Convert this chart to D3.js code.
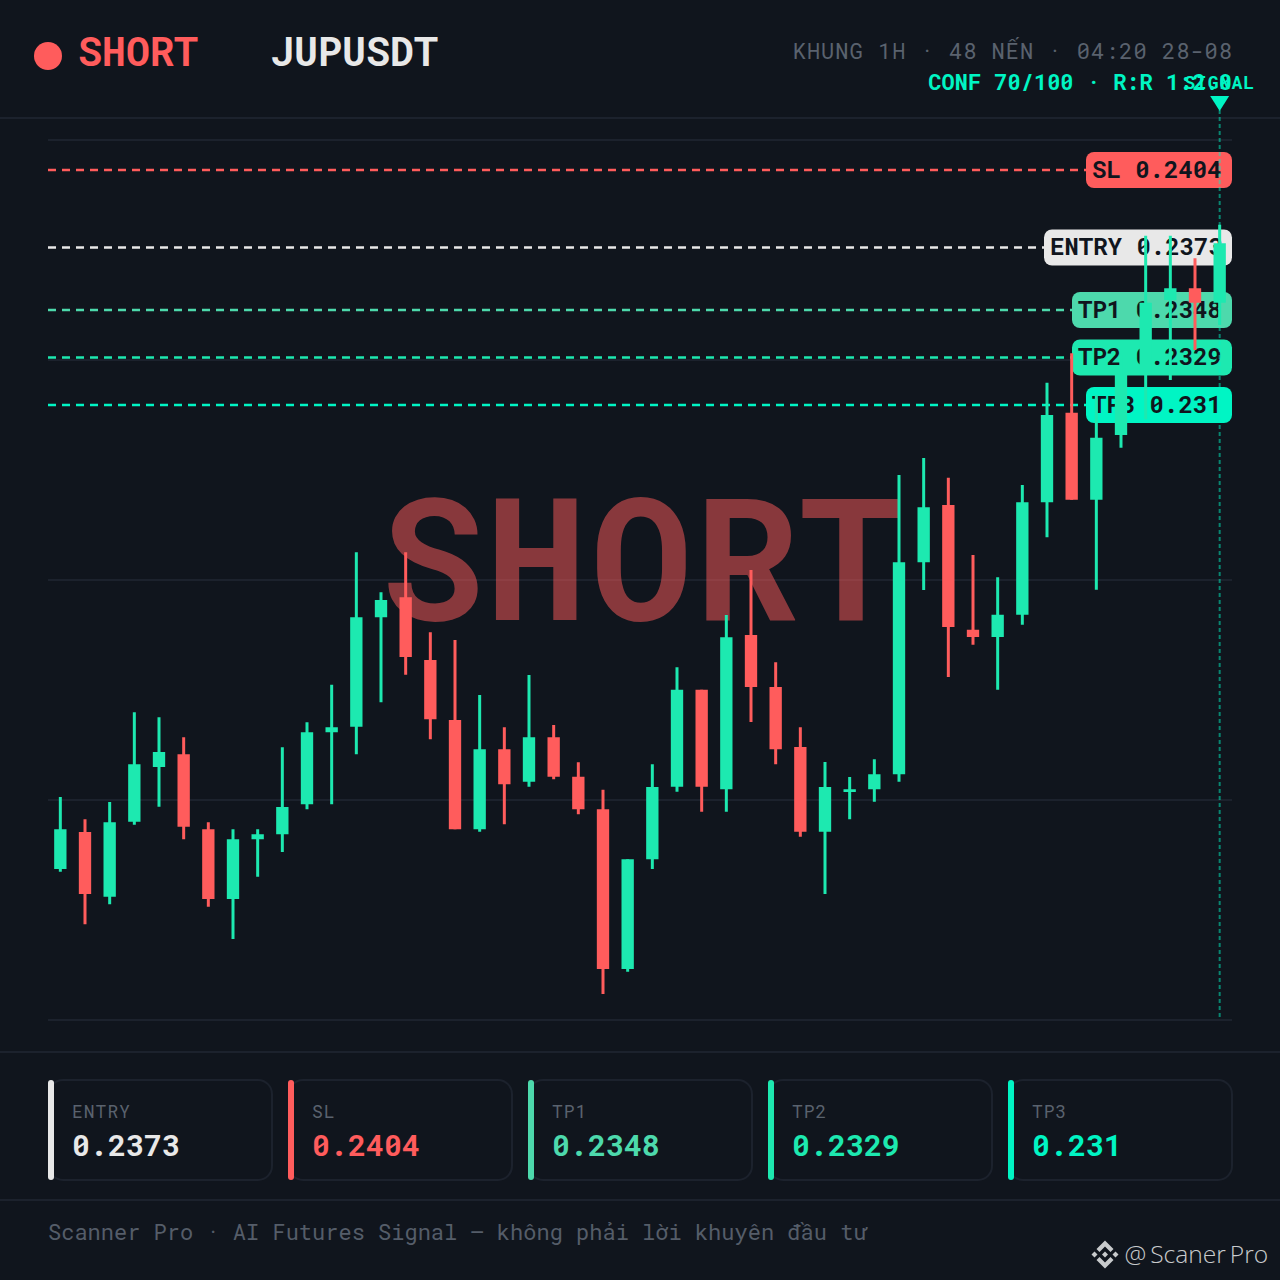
<!DOCTYPE html>
<html>
<head>
<meta charset="utf-8">
<script src="https://cdnjs.cloudflare.com/ajax/libs/d3/7.8.5/d3.min.js"></script>
<style>
  html, body { margin: 0; padding: 0; background: #10151d; }
  svg { display: block; }
  text { font-family: "Roboto Mono", "DejaVu Sans Mono", monospace; }
</style>
</head>
<body>
<div id="chart"></div>
<script>
// candle values, oldest first
var candleOpen = [0.21244,0.21392,0.21133,0.21433,0.21652,0.21703,0.21403,0.21124,0.21363,0.21383,0.21503,0.21791,
  0.21813,0.22251,0.22331,0.22080,0.21840,0.21403,0.21723,0.21593,0.21771,0.21613,0.21483,0.20844,
  0.21283,0.21573,0.21961,0.21563,0.22180,0.21972,0.21732,0.21393,0.21552,0.21563,0.21623,0.22471,
  0.22700,0.22201,0.22172,0.22261,0.22711,0.23069,0.22721,0.22980,0.23220,0.23520,0.23567,0.23509];
var candleHigh = [0.21532,0.21443,0.21512,0.21871,0.21851,0.21771,0.21431,0.21403,0.21403,0.21731,0.21831,0.21981,
  0.22511,0.22351,0.22511,0.22191,0.22160,0.21940,0.21811,0.22020,0.21820,0.21671,0.21561,0.21283,
  0.21663,0.22051,0.21961,0.22260,0.22440,0.22071,0.21811,0.21672,0.21612,0.21683,0.22820,0.22888,
  0.22809,0.22500,0.22411,0.22780,0.23189,0.23307,0.23140,0.23300,0.23777,0.23777,0.23687,0.23821];
var candleLow = [0.21233,0.21023,0.21103,0.21421,0.21493,0.21363,0.21093,0.20964,0.21213,0.21312,0.21483,0.21503,
  0.21703,0.21911,0.22021,0.21763,0.21403,0.21393,0.21423,0.21573,0.21603,0.21463,0.20744,0.20833,
  0.21244,0.21553,0.21473,0.21473,0.21832,0.21663,0.21373,0.21144,0.21443,0.21513,0.21593,0.22360,
  0.22012,0.22141,0.21961,0.22221,0.22571,0.22721,0.22361,0.22929,0.23043,0.23200,0.23320,0.23420];
var candleClose = [0.21403,0.21144,0.21431,0.21663,0.21712,0.21413,0.21124,0.21363,0.21383,0.21492,0.21791,0.21811,
  0.22251,0.22320,0.22092,0.21843,0.21403,0.21723,0.21583,0.21771,0.21613,0.21483,0.20844,0.21283,
  0.21572,0.21961,0.21573,0.22171,0.21972,0.21723,0.21393,0.21572,0.21563,0.21623,0.22471,0.22691,
  0.22212,0.22172,0.22261,0.22711,0.23060,0.22721,0.22969,0.23220,0.23509,0.23567,0.23509,0.23747];

var gridPrices = [0.2416, 0.2328, 0.2240, 0.2152, 0.2064];

var levelNames = ['SL', 'ENTRY', 'TP1', 'TP2', 'TP3'];
var levelPrices = [0.2404, 0.2373, 0.2348, 0.2329, 0.231];
var levelColors = ['#ff5c5c', '#e8e8e8', '#4dd9ac', '#1de9b0', '#00f5c4'];

var cardNames = ['ENTRY', 'SL', 'TP1', 'TP2', 'TP3'];
var cardPrices = [0.2373, 0.2404, 0.2348, 0.2329, 0.231];
var cardColors = ['#e8e8e8', '#ff5c5c', '#4dd9ac', '#1de9b0', '#00f5c4'];

var BG = '#10151d', LINE = '#1c222d', MUTED = '#5a626e', UP = '#1de9b0', DOWN = '#ff5c5c', SIGNAL = '#00f5c4';

var svg = d3.select('#chart').append('svg').attr('width', 1280).attr('height', 1280);

svg.append('rect').attr('width', 1280).attr('height', 1280).attr('fill', BG);

var x = d3.scaleBand().domain(d3.range(candleOpen.length)).range([48, 1232]);
var y = d3.scaleLinear().domain([0.2064, 0.2416]).range([1020, 140]);

// header
svg.append('circle').attr('cx', 48).attr('cy', 56).attr('r', 14).attr('fill', DOWN);
svg.append('text').attr('x', 78).attr('y', 66).attr('font-size', 40).attr('font-weight', 700).attr('fill', DOWN).text('SHORT');
svg.append('text').attr('x', 270).attr('y', 66).attr('font-size', 40).attr('font-weight', 700).attr('fill', '#e8e8e8').text('JUPUSDT');
svg.append('text').attr('x', 1233).attr('y', 59).attr('text-anchor', 'end').attr('font-size', 22)
  .attr('letter-spacing', 1).attr('fill', MUTED).text('KHUNG 1H · 48 NẾN · 04:20 28-08');
svg.append('text').attr('x', 1232).attr('y', 90).attr('text-anchor', 'end').attr('font-size', 22)
  .attr('font-weight', 700).attr('fill', SIGNAL).text('CONF 70/100 · R:R 1:2.0');

var rules = [118, 1052, 1200];
svg.selectAll('.rule').data(rules).enter().append('line').attr('class', 'rule')
  .attr('x1', 0).attr('x2', 1280).attr('y1', function (d) { return d; }).attr('y2', function (d) { return d; })
  .attr('stroke', LINE).attr('stroke-width', 2);

// grid comes from a real axis with the labels switched off
var grid = d3.axisLeft(y).tickValues(gridPrices).tickSize(-1184).tickFormat('').offset(0);
var gridGroup = svg.append('g').attr('transform', 'translate(48,0)').call(grid);
gridGroup.select('.domain').remove();
gridGroup.selectAll('line').attr('stroke', LINE).attr('stroke-width', 2);

// big watermark sits under the candles
svg.append('text').attr('x', 643).attr('y', 620).attr('text-anchor', 'middle').attr('font-size', 170)
  .attr('letter-spacing', 2.75).attr('font-weight', 700).attr('fill', DOWN).attr('opacity', 0.5).text('SHORT');

function badgeLabel(i) { return levelNames[i] + ' ' + levelPrices[i]; }
function badgeWidth(i) { return badgeLabel(i).length * 14 + 20; }

// level lines and their badges
var levels = svg.selectAll('.level').data(levelNames).enter().append('g').attr('class', 'level');
levels.append('line')
  .attr('x1', 48).attr('x2', function (d, i) { return 1232 - badgeWidth(i); })
  .attr('y1', function (d, i) { return y(levelPrices[i]); })
  .attr('y2', function (d, i) { return y(levelPrices[i]); })
  .attr('stroke', function (d, i) { return levelColors[i]; })
  .attr('stroke-width', 2.4).attr('stroke-dasharray', '8,6');
levels.append('rect')
  .attr('x', function (d, i) { return 1232 - badgeWidth(i); })
  .attr('y', function (d, i) { return y(levelPrices[i]) - 18; })
  .attr('width', function (d, i) { return badgeWidth(i); })
  .attr('height', 36).attr('rx', 8)
  .attr('fill', function (d, i) { return levelColors[i]; });
levels.append('text')
  .attr('x', function (d, i) { return 1232 - badgeWidth(i) + 6; })
  .attr('y', function (d, i) { return y(levelPrices[i]) + 7.5; })
  .attr('font-size', 24).attr('font-weight', 700).attr('fill', BG)
  .text(function (d, i) { return badgeLabel(i); });

// signal marker on the last candle
var signalX = x(candleOpen.length - 1) + x.bandwidth() / 2;
var markerLine = d3.line();
svg.append('line').attr('x1', signalX).attr('x2', signalX).attr('y1', 110).attr('y2', 1020)
  .attr('stroke', SIGNAL).attr('stroke-opacity', 0.5).attr('stroke-width', 2).attr('stroke-dasharray', '4,3');
svg.append('path').attr('d', markerLine([[signalX - 9.5, 96], [signalX + 9.5, 96], [signalX, 111]]) + 'Z')
  .attr('fill', SIGNAL);
svg.append('text').attr('x', signalX).attr('y', 89).attr('text-anchor', 'middle').attr('font-size', 18)
  .attr('font-weight', 700).attr('letter-spacing', 1).attr('fill', SIGNAL).text('SIGNAL');

// candles
function candleColor(i) { return candleClose[i] >= candleOpen[i] ? UP : DOWN; }
var candles = svg.selectAll('.candle').data(candleOpen).enter().append('g').attr('class', 'candle');
candles.append('line')
  .attr('x1', function (d, i) { return x(i) + x.bandwidth() / 2; })
  .attr('x2', function (d, i) { return x(i) + x.bandwidth() / 2; })
  .attr('y1', function (d, i) { return y(candleHigh[i]); })
  .attr('y2', function (d, i) { return y(candleLow[i]); })
  .attr('stroke', function (d, i) { return candleColor(i); })
  .attr('stroke-width', 3);
candles.append('rect')
  .attr('x', function (d, i) { return x(i) + x.bandwidth() / 4; })
  .attr('width', x.bandwidth() / 2)
  .attr('y', function (d, i) { return y(Math.max(candleOpen[i], candleClose[i])); })
  .attr('height', function (d, i) { return Math.abs(y(candleOpen[i]) - y(candleClose[i])); })
  .attr('fill', function (d, i) { return candleColor(i); });

// summary cards
var cardX = d3.scaleBand().domain(cardNames).range([48, 1248]);
var cards = svg.selectAll('.card').data(cardNames).enter().append('g').attr('class', 'card')
  .attr('transform', function (d) { return 'translate(' + cardX(d) + ',1080)'; });
cards.append('rect').attr('x', 1).attr('y', 0).attr('width', 223).attr('height', 100).attr('rx', 14)
  .attr('fill', 'none').attr('stroke', LINE).attr('stroke-width', 2);
cards.append('rect').attr('width', 6).attr('height', 100).attr('rx', 3)
  .attr('fill', function (d, i) { return cardColors[i]; });
cards.append('text').attr('x', 24).attr('y', 38).attr('font-size', 18).attr('letter-spacing', 1)
  .attr('fill', MUTED).text(function (d) { return d; });
cards.append('text').attr('x', 24).attr('y', 76).attr('font-size', 30).attr('font-weight', 700)
  .attr('fill', function (d, i) { return cardColors[i]; })
  .text(function (d, i) { return cardPrices[i]; });

// footer
svg.append('text').attr('x', 48).attr('y', 1240).attr('font-size', 22).attr('fill', '#555d69')
  .text('Scanner Pro · AI Futures Signal — không phải lời khuyên đầu tư');

// brand stamp, bottom right
var logoX = 1105, logoY = 1254.5;
function diamond(cx, cy, r) {
  return markerLine([[cx, cy - r], [cx + r, cy], [cx, cy + r], [cx - r, cy]]) + 'Z';
}
function chevron(dir) {
  // arrow shape above (dir -1) or below (dir 1) the middle diamond
  return markerLine([
    [logoX, logoY + dir * 14], [logoX + 8.5, logoY + dir * 5.5], [logoX + 5.5, logoY + dir * 2.5],
    [logoX, logoY + dir * 8], [logoX - 5.5, logoY + dir * 2.5], [logoX - 8.5, logoY + dir * 5.5]
  ]) + 'Z';
}
var logo = svg.append('g').attr('fill', '#c8cacc');
logo.append('path').attr('d', diamond(logoX, logoY, 3));
logo.append('path').attr('d', diamond(logoX - 10.5, logoY, 3));
logo.append('path').attr('d', diamond(logoX + 10.5, logoY, 3));
logo.append('path').attr('d', chevron(-1));
logo.append('path').attr('d', chevron(1));
svg.append('text').attr('x', 1124.5).attr('y', 1263).attr('font-size', 24.6).attr('font-weight', 300)
  .attr('word-spacing', -2.5).attr('fill', '#c8cacc')
  .style('font-family', '"Open Sans"').text('@ Scaner Pro');
</script>
</body>
</html>
